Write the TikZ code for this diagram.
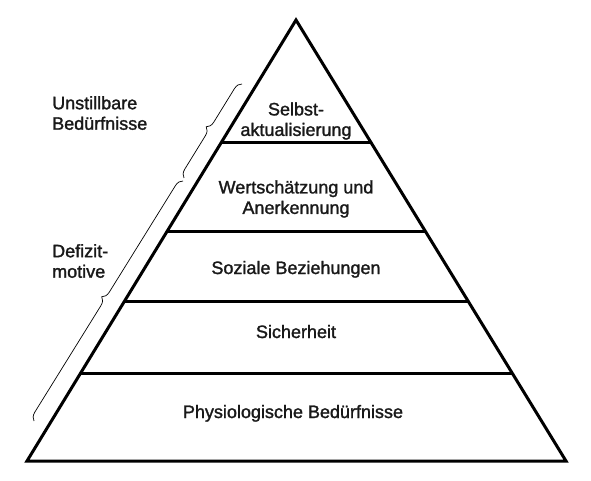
\documentclass[tikz,border=0pt]{standalone}
\usepackage{fontspec}
\setmainfont{Liberation Sans}[FakeBold=1.5]
\usetikzlibrary{calc,decorations.pathreplacing}
\begin{document}
\begin{tikzpicture}[x=1pt,y=-1pt,
  pyr/.style={line width=3pt,line join=miter,black},
  layer/.style={line width=3pt,black},
  lbl/.style={inner sep=0pt,font=\fontsize{18}{20.5}\selectfont,text=black!90},
  bracelbl/.style={draw=black,line width=0.7pt,decorate,decoration={brace,mirror,amplitude=8pt}}]
\useasboundingbox (0,0) rectangle (591,481);
\coordinate (A) at (296,20);
\coordinate (L) at (27,461);
\coordinate (R) at (566,461);
\draw[pyr] (A) -- (R) -- (L) -- cycle;
\foreach \t/\n in {0.2789/a,0.4807/b,0.6372/c,0.8005/d}{
  \coordinate (l\n) at ($(A)!\t!(L)$);
  \coordinate (r\n) at ($(A)!\t!(R)$);
  \draw[layer] (l\n) -- (r\n);
}
\node[lbl,align=center] (s1) at (296,121) {Selbst-\\aktualisierung};
\node[lbl,align=center] (s2) at (296,199) {Wertschätzung und\\Anerkennung};
\node[lbl,anchor=base] (s3) at (296,274) {Soziale Beziehungen};
\node[lbl,anchor=base] (s4) at (296,338) {Sicherheit};
\node[lbl,anchor=base] (s5) at (293,418) {Physiologische Bedürfnisse};
\node[lbl,align=left,anchor=north west] (t1) at (52,96) {Unstillbare\\Bedürfnisse};
\node[lbl,align=left,anchor=north west] (t2) at (52,244) {Defizit-\\motive};
\coordinate (b1s) at (242,84);
\coordinate (b1e) at (184,178);
\coordinate (b2s) at (183,181);
\coordinate (b2e) at (34,421);
\draw[bracelbl] (b1s) -- (b1e);
\draw[bracelbl] (b2s) -- (b2e);
\end{tikzpicture}
\end{document}
